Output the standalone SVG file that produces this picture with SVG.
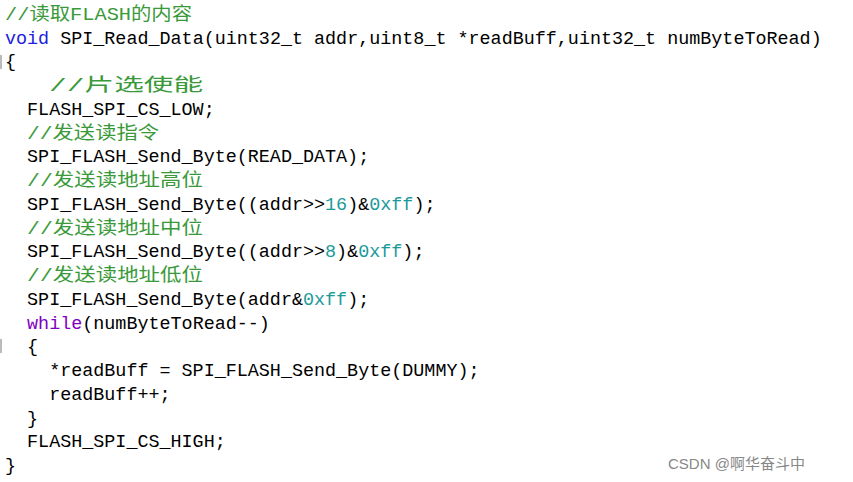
<svg xmlns="http://www.w3.org/2000/svg" width="853" height="482" viewBox="0 0 853 482">
<style>
text{font-family:"Liberation Mono","Noto Sans CJK SC",monospace;font-size:18.4px;fill:#000;white-space:pre}
.c{fill:#3a9a3a}.k{fill:#2020e0}.w{fill:#8000c0}.n{fill:#1a9a9a}
.wm{font-family:"Liberation Sans","Noto Sans CJK SC",sans-serif;font-size:15px;fill:#888}
</style>
<rect width="853" height="482" fill="#fff"/>
<rect x="0" y="55" width="2" height="14" fill="#bbb"/>
<rect x="0" y="339" width="2" height="14" fill="#bbb"/>
<g id="code" xml:space="preserve">
<text x="5" y="20" class="c" textLength="187" lengthAdjust="spacingAndGlyphs">//读取FLASH的内容</text>
<text x="5" y="44"><tspan class="k">void</tspan> SPI_Read_Data(uint32_t addr,uint8_t *readBuff,uint32_t numByteToRead)</text>
<text x="5" y="67">{</text>
<text x="49" y="91" class="c" textLength="154" lengthAdjust="spacingAndGlyphs">//片选使能</text>
<text x="5" y="115">  FLASH_SPI_CS_LOW;</text>
<text x="27" y="139" class="c" textLength="132" lengthAdjust="spacingAndGlyphs">//发送读指令</text>
<text x="5" y="162">  SPI_FLASH_Send_Byte(READ_DATA);</text>
<text x="27" y="186" class="c" textLength="176" lengthAdjust="spacingAndGlyphs">//发送读地址高位</text>
<text x="5" y="210">  SPI_FLASH_Send_Byte((addr&gt;&gt;<tspan class="n">16</tspan>)&amp;<tspan class="n">0xff</tspan>);</text>
<text x="27" y="234" class="c" textLength="176" lengthAdjust="spacingAndGlyphs">//发送读地址中位</text>
<text x="5" y="257">  SPI_FLASH_Send_Byte((addr&gt;&gt;<tspan class="n">8</tspan>)&amp;<tspan class="n">0xff</tspan>);</text>
<text x="27" y="281" class="c" textLength="176" lengthAdjust="spacingAndGlyphs">//发送读地址低位</text>
<text x="5" y="305">  SPI_FLASH_Send_Byte(addr&amp;<tspan class="n">0xff</tspan>);</text>
<text x="5" y="329">  <tspan class="w">while</tspan>(numByteToRead--)</text>
<text x="5" y="352">  {</text>
<text x="5" y="376">    *readBuff = SPI_FLASH_Send_Byte(DUMMY);</text>
<text x="5" y="400">    readBuff++;</text>
<text x="5" y="424">  }</text>
<text x="5" y="447">  FLASH_SPI_CS_HIGH;</text>
<text x="5" y="471">}</text>
</g>
<text class="wm" x="668" y="469">CSDN @啊华奋斗中</text>
</svg>
